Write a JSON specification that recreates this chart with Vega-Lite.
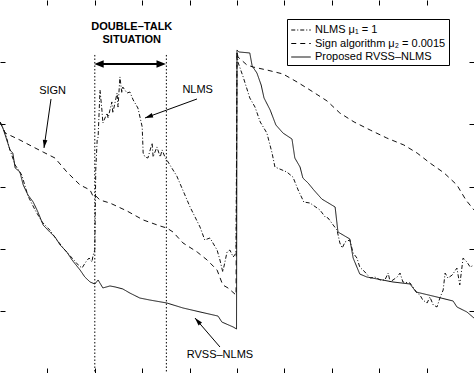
{
 "$schema": "https://vega.github.io/schema/vega-lite/v6.json",
 "width": 474, "height": 373,
 "autosize": {"type": "none"},
 "padding": 0,
 "background": "white",
 "config": {
  "view": {"stroke": null},
  "font": "Liberation Sans",
  "axis": {"labels": false, "title": null, "grid": false, "tickColor": "black", "domainColor": "black", "tickSize": -5, "tickWidth": 1}
 },
 "datasets": {
  "curves": [
   {"s":"R","t":0,"v":-9.81},{"s":"R","t":0.06,"v":-10.29},{"s":"R","t":0.11,"v":-10.86},{"s":"R","t":0.21,"v":-12.06},{"s":"R","t":0.27,"v":-12.31},{"s":"R","t":0.32,"v":-13.51},{"s":"R","t":0.42,"v":-13.83},{"s":"R","t":0.49,"v":-14.88},{"s":"R","t":0.59,"v":-15.68},{"s":"R","t":0.70,"v":-16.25},{"s":"R","t":0.80,"v":-17.05},{"s":"R","t":0.91,"v":-18.10},{"s":"R","t":1.05,"v":-18.66},{"s":"R","t":1.16,"v":-19.06},{"s":"R","t":1.27,"v":-19.71},{"s":"R","t":1.41,"v":-20.27},{"s":"R","t":1.52,"v":-20.91},{"s":"R","t":1.69,"v":-21.72},{"s":"R","t":1.79,"v":-22.28},{"s":"R","t":1.90,"v":-22.68},{"s":"R","t":2.00,"v":-22.84},{"s":"R","t":2.07,"v":-22.52},{"s":"R","t":2.17,"v":-23.16},{"s":"R","t":2.32,"v":-23.00},{"s":"R","t":2.43,"v":-23.08},{"s":"R","t":2.59,"v":-23.24},{"s":"R","t":2.74,"v":-23.57},{"s":"R","t":2.95,"v":-23.97},{"s":"R","t":3.16,"v":-24.13},{"s":"R","t":3.52,"v":-24.37},{"s":"R","t":3.86,"v":-24.77},{"s":"R","t":4.22,"v":-25.09},{"s":"R","t":4.60,"v":-25.42},{"s":"R","t":4.68,"v":-25.90},{"s":"R","t":4.92,"v":-26.30},{"s":"R","t":4.99,"v":-26.46},
   {"s":"R","t":5.00,"v":-4.02},{"s":"R","t":5.04,"v":-4.18},{"s":"R","t":5.27,"v":-4.26},{"s":"R","t":5.32,"v":-5.31},{"s":"R","t":5.42,"v":-5.87},{"s":"R","t":5.51,"v":-6.84},{"s":"R","t":5.57,"v":-7.88},{"s":"R","t":5.70,"v":-8.85},{"s":"R","t":5.82,"v":-10.05},{"s":"R","t":5.97,"v":-10.70},{"s":"R","t":6.16,"v":-11.18},{"s":"R","t":6.22,"v":-12.71},{"s":"R","t":6.33,"v":-13.43},{"s":"R","t":6.39,"v":-14.32},{"s":"R","t":6.50,"v":-14.72},{"s":"R","t":6.62,"v":-15.28},{"s":"R","t":6.79,"v":-16.01},{"s":"R","t":7.07,"v":-16.65},{"s":"R","t":7.13,"v":-18.66},{"s":"R","t":7.38,"v":-19.22},{"s":"R","t":7.45,"v":-20.75},{"s":"R","t":7.59,"v":-22.04},{"s":"R","t":7.74,"v":-22.28},{"s":"R","t":8.29,"v":-22.68},{"s":"R","t":8.65,"v":-22.84},{"s":"R","t":8.78,"v":-23.49},{"s":"R","t":9.22,"v":-23.89},{"s":"R","t":9.56,"v":-24.21},{"s":"R","t":9.64,"v":-24.69},{"s":"R","t":9.85,"v":-25.09},{"s":"R","t":10.00,"v":-25.58},
   {"s":"S","t":0,"v":-9.81},{"s":"S","t":0.11,"v":-10.70},{"s":"S","t":0.42,"v":-11.26},{"s":"S","t":0.70,"v":-11.82},{"s":"S","t":0.91,"v":-12.23},{"s":"S","t":1.16,"v":-12.71},{"s":"S","t":1.41,"v":-13.83},{"s":"S","t":1.69,"v":-14.88},{"s":"S","t":1.90,"v":-15.28},{"s":"S","t":1.96,"v":-15.76},{"s":"S","t":2.00,"v":-15.68},{"s":"S","t":2.11,"v":-16.09},{"s":"S","t":2.32,"v":-16.33},{"s":"S","t":2.68,"v":-16.97},{"s":"S","t":3.02,"v":-17.69},{"s":"S","t":3.38,"v":-18.18},{"s":"S","t":3.52,"v":-18.34},{"s":"S","t":3.65,"v":-18.66},{"s":"S","t":3.86,"v":-19.54},{"s":"S","t":4.16,"v":-20.27},{"s":"S","t":4.37,"v":-20.91},{"s":"S","t":4.58,"v":-21.72},{"s":"S","t":4.70,"v":-22.92},{"s":"S","t":4.81,"v":-23.16},{"s":"S","t":4.98,"v":-23.73},
   {"s":"S","t":5.00,"v":-4.18},{"s":"S","t":5.02,"v":-4.58},{"s":"S","t":5.21,"v":-5.23},{"s":"S","t":5.34,"v":-5.39},{"s":"S","t":5.63,"v":-5.63},{"s":"S","t":5.97,"v":-5.95},{"s":"S","t":6.27,"v":-6.60},{"s":"S","t":6.54,"v":-7.24},{"s":"S","t":6.90,"v":-8.12},{"s":"S","t":7.17,"v":-9.09},{"s":"S","t":7.47,"v":-9.81},{"s":"S","t":7.81,"v":-10.46},{"s":"S","t":8.16,"v":-11.10},{"s":"S","t":8.52,"v":-11.66},{"s":"S","t":8.80,"v":-12.31},{"s":"S","t":9.07,"v":-13.11},{"s":"S","t":9.37,"v":-13.91},{"s":"S","t":9.64,"v":-14.88},{"s":"S","t":9.83,"v":-16.09},{"s":"S","t":10.00,"v":-16.89},
   {"s":"N","t":0,"v":-9.81},{"s":"N","t":0.11,"v":-10.70},{"s":"N","t":0.21,"v":-12.06},{"s":"N","t":0.32,"v":-13.27},{"s":"N","t":0.46,"v":-14.08},{"s":"N","t":0.59,"v":-15.76},{"s":"N","t":0.74,"v":-16.89},{"s":"N","t":0.89,"v":-17.86},{"s":"N","t":1.05,"v":-18.50},{"s":"N","t":1.20,"v":-19.30},{"s":"N","t":1.37,"v":-20.11},{"s":"N","t":1.52,"v":-20.75},{"s":"N","t":1.65,"v":-21.31},{"s":"N","t":1.73,"v":-21.56},{"s":"N","t":1.81,"v":-21.07},{"s":"N","t":1.88,"v":-20.75},{"s":"N","t":1.94,"v":-21.07},{"s":"N","t":1.96,"v":-20.59},{"s":"N","t":2.00,"v":-20.11},{"s":"N","t":2.02,"v":-13.67},{"s":"N","t":2.05,"v":-11.26},{"s":"N","t":2.07,"v":-11.02},{"s":"N","t":2.11,"v":-7.24},{"s":"N","t":2.15,"v":-8.85},{"s":"N","t":2.17,"v":-9.89},{"s":"N","t":2.26,"v":-9.09},{"s":"N","t":2.28,"v":-9.49},{"s":"N","t":2.36,"v":-8.20},{"s":"N","t":2.38,"v":-9.09},{"s":"N","t":2.47,"v":-7.48},{"s":"N","t":2.49,"v":-8.61},{"s":"N","t":2.53,"v":-6.19},{"s":"N","t":2.57,"v":-7.48},{"s":"N","t":2.59,"v":-7.00},{"s":"N","t":2.68,"v":-7.48},{"s":"N","t":2.74,"v":-7.40},{"s":"N","t":2.81,"v":-8.04},{"s":"N","t":2.91,"v":-8.69},{"s":"N","t":3.00,"v":-10.21},{"s":"N","t":3.02,"v":-12.31},{"s":"N","t":3.06,"v":-12.63},{"s":"N","t":3.12,"v":-12.71},{"s":"N","t":3.21,"v":-11.50},{"s":"N","t":3.23,"v":-12.63},{"s":"N","t":3.31,"v":-11.82},{"s":"N","t":3.38,"v":-12.63},{"s":"N","t":3.42,"v":-12.06},{"s":"N","t":3.48,"v":-12.63},{"s":"N","t":3.52,"v":-12.87},{"s":"N","t":3.73,"v":-14.16},{"s":"N","t":4.01,"v":-16.65},{"s":"N","t":4.22,"v":-18.26},{"s":"N","t":4.32,"v":-19.30},{"s":"N","t":4.43,"v":-19.14},{"s":"N","t":4.58,"v":-20.11},{"s":"N","t":4.64,"v":-20.91},{"s":"N","t":4.70,"v":-21.88},{"s":"N","t":4.79,"v":-20.27},{"s":"N","t":4.85,"v":-20.11},{"s":"N","t":4.92,"v":-20.67},{"s":"N","t":4.98,"v":-20.35},
   {"s":"N","t":5.00,"v":-4.18},{"s":"N","t":5.02,"v":-4.99},{"s":"N","t":5.13,"v":-6.19},{"s":"N","t":5.27,"v":-7.88},{"s":"N","t":5.38,"v":-8.61},{"s":"N","t":5.49,"v":-9.81},{"s":"N","t":5.63,"v":-10.70},{"s":"N","t":5.74,"v":-12.31},{"s":"N","t":5.80,"v":-13.43},{"s":"N","t":6.05,"v":-13.83},{"s":"N","t":6.18,"v":-14.24},{"s":"N","t":6.29,"v":-15.28},{"s":"N","t":6.41,"v":-16.25},{"s":"N","t":6.54,"v":-16.33},{"s":"N","t":6.69,"v":-16.73},{"s":"N","t":6.75,"v":-16.89},{"s":"N","t":6.86,"v":-17.45},{"s":"N","t":6.92,"v":-17.53},{"s":"N","t":7.03,"v":-18.10},{"s":"N","t":7.11,"v":-18.50},{"s":"N","t":7.17,"v":-19.54},{"s":"N","t":7.22,"v":-19.95},{"s":"N","t":7.28,"v":-19.46},{"s":"N","t":7.38,"v":-19.30},{"s":"N","t":7.45,"v":-20.35},{"s":"N","t":7.53,"v":-20.75},{"s":"N","t":7.59,"v":-21.48},{"s":"N","t":7.70,"v":-21.88},{"s":"N","t":7.81,"v":-22.36},{"s":"N","t":7.91,"v":-22.28},{"s":"N","t":8.02,"v":-22.52},{"s":"N","t":8.12,"v":-22.52},{"s":"N","t":8.19,"v":-21.96},{"s":"N","t":8.23,"v":-22.68},{"s":"N","t":8.38,"v":-22.28},{"s":"N","t":8.44,"v":-21.96},{"s":"N","t":8.50,"v":-22.68},{"s":"N","t":8.65,"v":-22.76},{"s":"N","t":8.80,"v":-23.57},{"s":"N","t":8.86,"v":-23.73},{"s":"N","t":8.92,"v":-24.13},{"s":"N","t":9.01,"v":-24.37},{"s":"N","t":9.07,"v":-23.89},{"s":"N","t":9.14,"v":-24.53},{"s":"N","t":9.22,"v":-24.69},{"s":"N","t":9.28,"v":-23.97},{"s":"N","t":9.35,"v":-23.32},{"s":"N","t":9.39,"v":-21.96},{"s":"N","t":9.45,"v":-22.36},{"s":"N","t":9.54,"v":-22.12},{"s":"N","t":9.64,"v":-21.56},{"s":"N","t":9.70,"v":-22.92},{"s":"N","t":9.77,"v":-20.75},{"s":"N","t":9.85,"v":-21.07},{"s":"N","t":9.92,"v":-21.48},{"s":"N","t":10.00,"v":-21.31}
  ]
 },
 "layer": [
  {
   "data": {"name": "curves"},
   "mark": {"type": "line", "strokeWidth": 1, "color": "#111"},
   "encoding": {
    "x": {"field": "t", "type": "quantitative", "scale": {"domain": [0, 10], "nice": false, "zero": false}, "axis": {"orient": "bottom", "values": [1,2,3,4,5,6,7,8,9], "domain": true}},
    "y": {"field": "v", "type": "quantitative", "scale": {"domain": [-30, 0], "nice": false, "zero": false}, "axis": {"orient": "left", "values": [-25,-20,-15,-10,-5], "domain": false}},
    "strokeDash": {"field": "s", "type": "nominal", "scale": {"domain": ["N","S","R"], "range": [[4,2,1,2],[5,4],[1,0]]},
     "legend": {"orient": "none", "legendX": 287, "legendY": 19, "title": null, "strokeColor": "black", "fillColor": "white", "padding": 3, "rowPadding": 0.5, "symbolType": "M-1.3,0L1.3,0", "symbolSize": 225, "symbolStrokeWidth": 1, "symbolStrokeColor": "black", "symbolOffset": 3, "labelFontSize": 11, "labelFont": "Liberation Sans", "labelColor": "black", "labelOffset": 6,
      "labelExpr": "datum.label == 'N' ? 'NLMS μ₁ = 1' : datum.label == 'S' ? 'Sign algorithm μ₂ = 0.0015' : 'Proposed RVSS–NLMS'"}}
   }
  },
  {
   "data": {"values": [{"t": 2.0, "v": -4.42, "v2": -30}, {"t": 3.51, "v": -4.42, "v2": -30}]},
   "mark": {"type": "rule", "strokeDash": [1.5, 2], "color": "black", "strokeWidth": 1},
   "encoding": {
    "x": {"field": "t", "type": "quantitative", "axis": {"orient": "top", "values": [1,2,3,4,5,6,7,8,9], "domain": false}},
    "y": {"field": "v", "type": "quantitative", "axis": {"orient": "right", "values": [-25,-20,-15,-10,-5], "domain": false}},
    "y2": {"field": "v2"}
   }
  },
  {
   "data": {"values": [{"t": 1.076, "v": -7.96, "t2": 0.928, "v2": -11.90}, {"t": 4.156, "v": -7.96, "t2": 3.059, "v2": -9.49}, {"t": 4.641, "v": -27.91, "t2": 4.114, "v2": -25.58}]},
   "mark": {"type": "rule", "color": "black", "strokeWidth": 1},
   "encoding": {
    "x": {"field": "t", "type": "quantitative", "axis": null},
    "y": {"field": "v", "type": "quantitative", "axis": null},
    "x2": {"field": "t2"}, "y2": {"field": "v2"}
   }
  },
  {
   "data": {"values": [{"t": 2.06, "t2": 3.43, "v": -5.15}]},
   "mark": {"type": "rule", "color": "black", "strokeWidth": 2},
   "encoding": {
    "x": {"field": "t", "type": "quantitative", "axis": null},
    "x2": {"field": "t2"},
    "y": {"field": "v", "type": "quantitative", "axis": null}
   }
  },
  {"data": {"values": [{"t": 0.928, "v": -11.90}]}, "mark": {"type": "point", "shape": "M0,0L-0.8,2.8L0.8,2.8Z", "filled": true, "color": "black", "size": 33, "angle": 188, "opacity": 1},
   "encoding": {"x": {"field": "t", "type": "quantitative", "axis": null}, "y": {"field": "v", "type": "quantitative", "axis": null}}},
  {"data": {"values": [{"t": 3.059, "v": -9.49}]}, "mark": {"type": "point", "shape": "M0,0L-0.8,2.8L0.8,2.8Z", "filled": true, "color": "black", "size": 33, "angle": 250, "opacity": 1},
   "encoding": {"x": {"field": "t", "type": "quantitative", "axis": null}, "y": {"field": "v", "type": "quantitative", "axis": null}}},
  {"data": {"values": [{"t": 4.114, "v": -25.58}]}, "mark": {"type": "point", "shape": "M0,0L-0.8,2.8L0.8,2.8Z", "filled": true, "color": "black", "size": 33, "angle": 319, "opacity": 1},
   "encoding": {"x": {"field": "t", "type": "quantitative", "axis": null}, "y": {"field": "v", "type": "quantitative", "axis": null}}},
  {"data": {"values": [{"t": 1.99, "v": -5.15}]}, "mark": {"type": "point", "shape": "M0,0L-1.1,2.8L1.1,2.8Z", "filled": true, "color": "black", "size": 45, "angle": 270, "opacity": 1},
   "encoding": {"x": {"field": "t", "type": "quantitative", "axis": null}, "y": {"field": "v", "type": "quantitative", "axis": null}}},
  {"data": {"values": [{"t": 3.50, "v": -5.15}]}, "mark": {"type": "point", "shape": "M0,0L-1.1,2.8L1.1,2.8Z", "filled": true, "color": "black", "size": 45, "angle": 90, "opacity": 1},
   "encoding": {"x": {"field": "t", "type": "quantitative", "axis": null}, "y": {"field": "v", "type": "quantitative", "axis": null}}},
  {
   "data": {"values": [{"t": 2.78, "v": -2.41, "txt": "DOUBLE–TALK"}, {"t": 2.78, "v": -3.46, "txt": "SITUATION"}]},
   "mark": {"type": "text", "font": "Liberation Sans", "fontSize": 11, "fontWeight": "bold", "align": "center", "baseline": "alphabetic", "color": "black"},
   "encoding": {"x": {"field": "t", "type": "quantitative", "axis": null}, "y": {"field": "v", "type": "quantitative", "axis": null}, "text": {"field": "txt"}}
  },
  {
   "data": {"values": [{"t": 1.11, "v": -7.56, "txt": "SIGN"}, {"t": 4.17, "v": -7.48, "txt": "NLMS"}, {"t": 4.64, "v": -28.79, "txt": "RVSS–NLMS"}]},
   "mark": {"type": "text", "font": "Liberation Sans", "fontSize": 11, "align": "center", "baseline": "alphabetic", "color": "black"},
   "encoding": {"x": {"field": "t", "type": "quantitative", "axis": null}, "y": {"field": "v", "type": "quantitative", "axis": null}, "text": {"field": "txt"}}
  }
 ],
 "resolve": {"axis": {"x": "independent", "y": "independent"}}
}
